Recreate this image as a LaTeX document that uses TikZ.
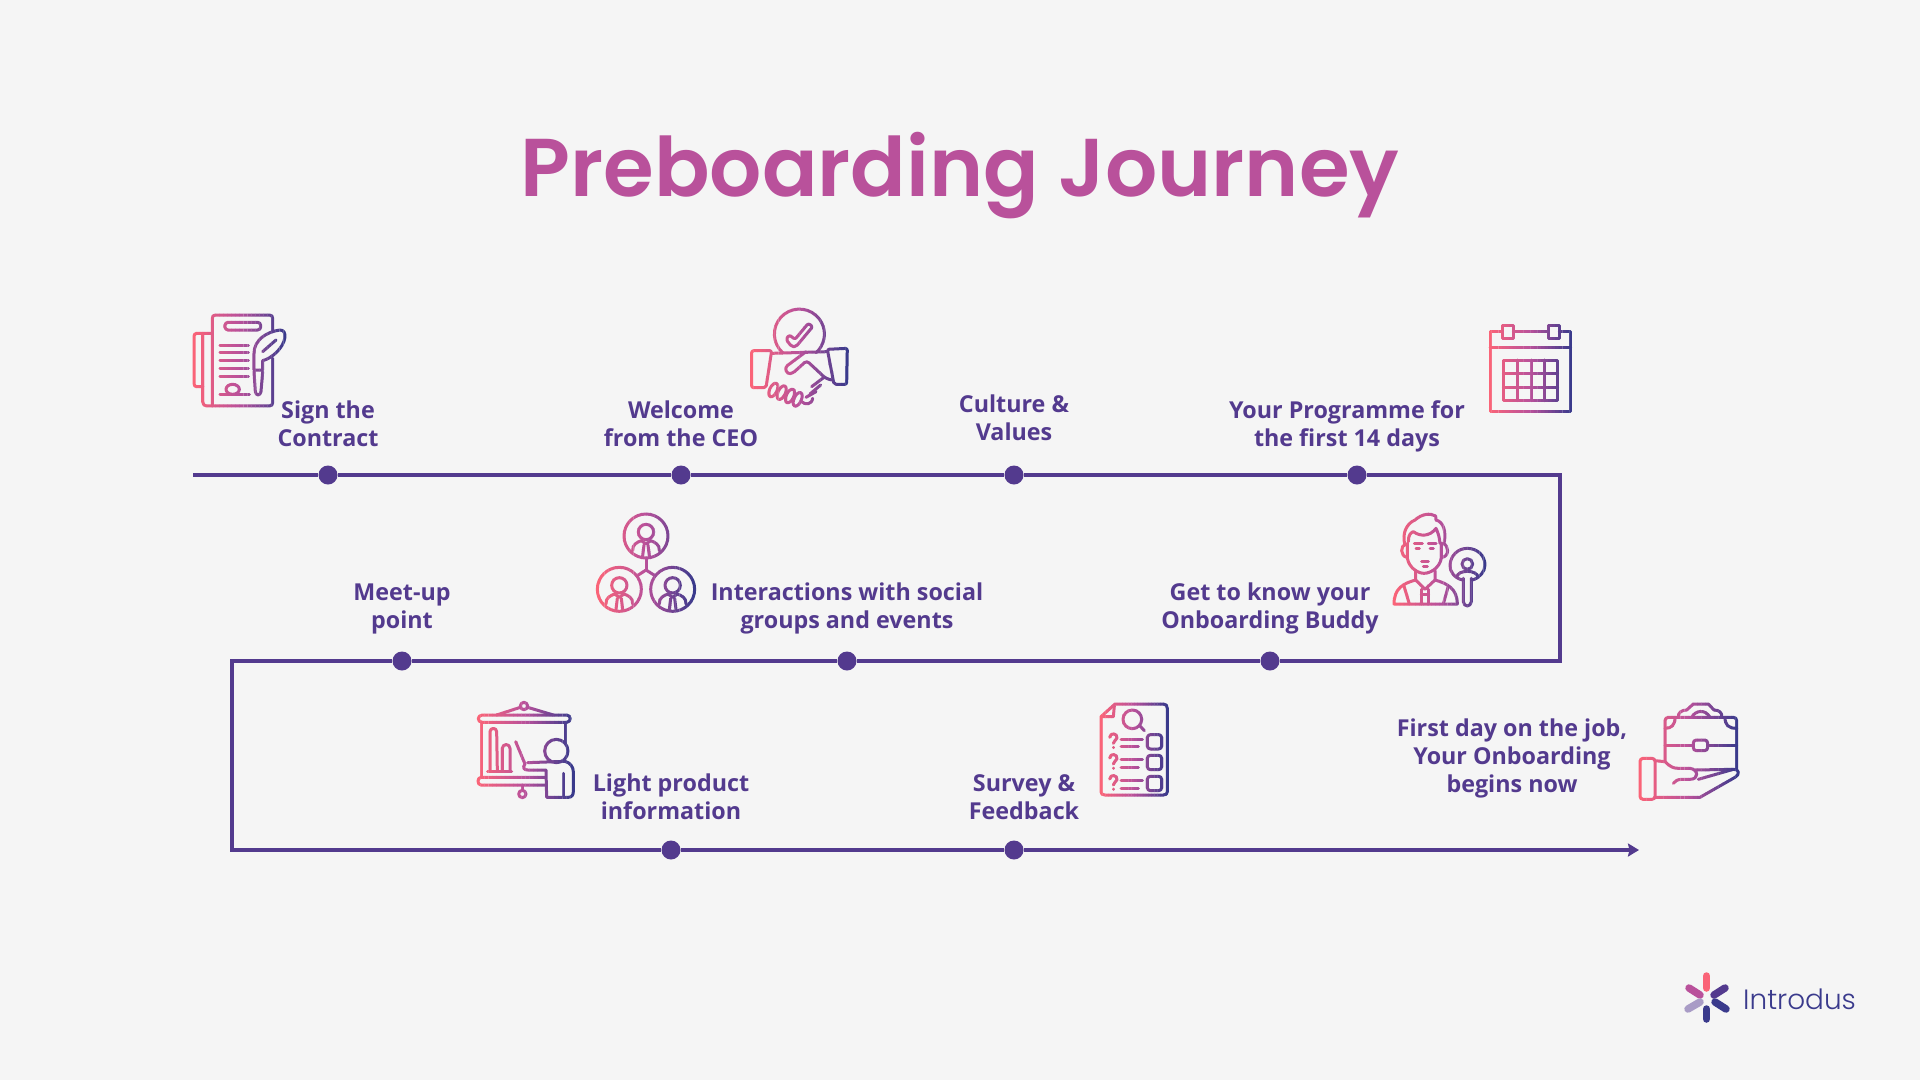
\documentclass[tikz,border=0pt]{standalone}
\usepackage{fontspec}
\setmainfont{Open Sans}
\newfontfamily\titlefont{Poppins SemiBold}
\newfontfamily\logofont{Poppins Light}
\usetikzlibrary{positioning, arrows.meta, shapes}
\definecolor{pagebg}{HTML}{F5F5F5}
\definecolor{journey}{HTML}{533A8E}
\definecolor{titlepink}{HTML}{B9519B}
\definecolor{iconpink}{HTML}{FA6478}
\definecolor{iconmid}{HTML}{B9519B}
\definecolor{iconnavy}{HTML}{3A3A8C}
\newcommand{\gradicon}[5]{%
  \begin{scope}[shift={(#1,#2)},x=0.3333pt,y=-0.3333pt]
    \foreach \i in {0,...,23}{
      \pgfmathsetmacro\xa{#3-4+(#4-#3+8)*\i/24-0.3}
      \pgfmathsetmacro\xb{#3-4+(#4-#3+8)*(\i+1)/24+0.3}
      \pgfmathsetmacro\gradpct{min(100,\i*200/23)}
      \pgfmathsetmacro\gradnav{max(0,\i*200/23-100)}
      \colorlet{gradcol}{iconnavy!\gradnav!iconmid}
      \colorlet{gradlow}{iconmid!\gradpct!iconpink}
      \pgfmathparse{\i<12 ? 1 : 0}
      \ifnum\pgfmathresult=1 \colorlet{gradcol}{gradlow}\fi
      \begin{scope}
        \clip (\xa,-300) rectangle (\xb,900);
        \begin{scope}[color=gradcol, line width=3pt, line join=round, line cap=round]
          #5
        \end{scope}
      \end{scope}
    }
  \end{scope}}
\begin{document}
\begin{tikzpicture}
  [x=1pt, y=-1pt,
   dot/.style={circle, fill=journey, inner sep=0pt, minimum size=19pt},
   steplabel/.style={align=center, text=journey, font=\fontsize{23.3}{28}\selectfont\bfseries},
   journeyline/.style={draw=journey, line width=3.1pt, line join=miter},
   >={Stealth[length=11pt, width=13pt, inset=1.5pt]}]
  \fill[pagebg] (0,0) rectangle (1920,1080);
  \useasboundingbox (0,0) rectangle (1920,1080);

  \node[text=titlepink, font=\titlefont\fontsize{82}{100}\selectfont] (heading) at (960,176) {Preboarding Journey};

  \coordinate (start) at (193,475);
  \node[dot] (sign) at (328,475) {};
  \node[dot] (ceo) at (681,475) {};
  \node[dot] (culture) at (1014,475) {};
  \node[dot] (programme) at (1357,475) {};
  \coordinate (cornerA) at (1560,475);
  \coordinate (cornerB) at (1560,661);
  \node[dot] (buddy) at (1270,661) {};
  \node[dot] (groups) at (847,661) {};
  \node[dot] (meetup) at (402,661) {};
  \coordinate (cornerC) at (232,661);
  \coordinate (cornerD) at (232,850);
  \node[dot] (product) at (671,850) {};
  \node[dot] (survey) at (1014,850) {};
  \coordinate (finish) at (1639,850);

  \draw[journeyline] (start) -- (sign);
  \draw[journeyline] (sign) -- (ceo);
  \draw[journeyline] (ceo) -- (culture);
  \draw[journeyline] (culture) -- (programme);
  \draw[journeyline] (programme) -- (cornerA) -- (cornerB) -- (buddy);
  \draw[journeyline] (buddy) -- (groups);
  \draw[journeyline] (groups) -- (meetup);
  \draw[journeyline] (meetup) -- (cornerC) -- (cornerD) -- (product);
  \draw[journeyline] (product) -- (survey);
  \draw[journeyline, ->] (survey) -- (finish);

  \node[steplabel] (signtext) at (328,424) {Sign the\\Contract};
  \node[steplabel] (ceotext) at (681,424) {Welcome\\from the CEO};
  \node[steplabel] (culturetext) at (1014,417.5) {Culture \&\\Values};
  \node[steplabel] (programmetext) at (1347,426.5) {Your Programme for\\the first 14 days};
  \node[steplabel] (meetuptext) at (402,609) {Meet-up\\point};
  \node[steplabel] (groupstext) at (847,608) {Interactions with social\\groups and events};
  \node[steplabel] (buddytext) at (1270,608) {Get to know your\\Onboarding Buddy};
  \node[steplabel] (producttext) at (671,796.5) {Light product\\information};
  \node[steplabel] (surveytext) at (1024,797) {Survey \&\\Feedback};
  \node[steplabel] (firstdaytext) at (1512,758) {First day on the job,\\Your Onboarding\\begins now};

  \gradicon{180}{290}{40}{318}{
    \draw (97,130) -- (50,130) .. controls (44,130) and (42,134) .. (42,140) -- (42,280) .. controls (42,287) and (45,290) .. (50,290) -- (68,290);
    \draw (68,130) -- (68,335) .. controls (68,343) and (73,348) .. (80,348) -- (268,348) .. controls (275,348) and (278,344) .. (278,338) -- (278,205);
    \draw (97,348) -- (97,85) .. controls (97,78) and (100,75) .. (107,75) -- (268,75) .. controls (275,75) and (278,78) .. (278,85) -- (278,122);
    \draw[rounded corners=3pt] (135,97) rectangle (242,120);
    \foreach \liney in {165,188,211,234,258} {\draw (120,\liney) -- (205,\liney);}
    \draw (120,313) -- (208,313);
    \draw (158,298) ellipse [x radius=20, y radius=15];
    \draw (222,240) -- (222,190) .. controls (222,150) and (260,125) .. (300,120) .. controls (312,120) and (316,130) .. (315,142) .. controls (310,175) and (275,205) .. (248,212) -- (248,240) -- cycle;
    \draw (222,245) -- (226,305) .. controls (228,318) and (240,318) .. (243,305) -- (248,245);
    \draw (248,185) -- (288,150);
  }

  \gradicon{730}{290}{62}{355}{
    \draw (158,188) arc [start angle=132, end angle=408, radius=75];
    \draw[rounded corners=2pt] (168,148) -- (178,135) -- (195,148) -- (235,100) -- (248,110) -- (198,170) -- (185,170) -- cycle;
    \draw[rounded corners=2pt] (65,182) -- (125,182) -- (108,293) -- (65,293) -- cycle;
    \draw[rounded corners=2pt] (292,178) -- (352,175) -- (350,283) -- (312,283) -- cycle;
    \draw (125,190) -- (292,185);
    \draw[rounded corners=3pt] (228,185) -- (165,232) -- (172,252) -- (188,250) -- (230,212) -- (287,265) -- (305,270);
    \foreach \fx/\fy in {130/300,155/308,180/318,203/328} {\draw[rotate around={-25:(\fx,\fy)}] (\fx,\fy) ellipse [x radius=11, y radius=22];}
    \draw (282,262) -- (245,290);
    \draw (272,285) -- (240,312);
    \draw (258,305) -- (228,322);
    \draw (248,325) .. controls (245,345) and (225,345) .. (215,335);
  }

  \gradicon{1470}{310}{58}{305}{
    \draw (97,65) -- (60,65) -- (60,305) -- (302,305) -- (302,65) -- (268,65);
    \draw (130,65) -- (235,65);
    \draw (97,47) rectangle (130,85);
    \draw (235,47) rectangle (268,85);
    \draw (60,113) -- (302,113);
    \draw (100,150) rectangle (263,272);
    \foreach \gridx in {143,183,222} {\draw (\gridx,150) -- (\gridx,272);}
    \draw (100,190) -- (263,190);
    \draw (100,232) -- (263,232);
  }

  \gradicon{580}{500}{52}{345}{
    \foreach \cx/\cy in {198/108,118/268,278/268} {
      \draw (\cx,\cy) circle [radius=66];
      \draw (\cx,\cy-12) circle [radius=23];
      \draw (\cx-40,\cy+44) .. controls (\cx-42,\cy+25) and (\cx-25,\cy+18) .. (\cx-14,\cy+14) -- (\cx,\cy+24) -- (\cx+14,\cy+14) .. controls (\cx+25,\cy+18) and (\cx+42,\cy+25) .. (\cx+40,\cy+44);
      \draw (\cx-6,\cy+27) -- (\cx-10,\cy+60);
      \draw (\cx+6,\cy+27) -- (\cx+10,\cy+60);
    }
    \draw (198,175) -- (198,210);
    \draw (198,210) -- (175,225);
    \draw (198,210) -- (222,225);
  }

  \gradicon{1380}{500}{40}{318}{
    \draw (75,135) .. controls (65,100) and (80,70) .. (105,60) .. controls (125,42) and (150,38) .. (167,48) -- (168,60) .. controls (190,65) and (200,95) .. (192,130);
    \draw (85,125) .. controls (85,105) and (92,98) .. (100,95) .. controls (120,110) and (150,110) .. (168,85) .. controls (175,100) and (178,110) .. (180,130);
    \draw (78,132) .. controls (60,135) and (60,170) .. (82,172);
    \draw (188,130) .. controls (208,135) and (208,170) .. (186,172);
    \draw (82,130) -- (82,175) .. controls (88,205) and (115,220) .. (132,220) .. controls (150,220) and (178,205) .. (184,175) -- (184,130);
    \draw (103,130) -- (127,130);
    \draw (145,130) -- (168,130);
    \draw (108,145) -- (118,145);
    \draw (150,145) -- (160,145);
    \draw (125,185) -- (145,185);
    \draw (130,200) -- (142,200);
    \draw (107,212) -- (107,240) -- (135,268) -- (165,240) -- (165,212);
    \draw (107,240) .. controls (70,250) and (42,265) .. (42,312) -- (232,312) .. controls (232,265) and (200,250) .. (165,240);
    \draw (72,258) -- (88,312);
    \draw (205,258) -- (190,312);
    \draw (124,268) -- (124,312);
    \draw (146,268) -- (146,312);
    \draw (124,282) -- (146,282);
    \draw (248,240) .. controls (225,235) and (208,215) .. (210,195) .. controls (212,165) and (235,145) .. (262,145) .. controls (290,145) and (315,165) .. (315,195) .. controls (315,215) and (298,235) .. (276,240);
    \draw (262,192) circle [radius=16];
    \draw (230,232) .. controls (232,220) and (245,214) .. (262,214) .. controls (278,214) and (292,220) .. (295,232);
    \draw (250,235) -- (250,305) .. controls (252,322) and (272,322) .. (274,305) -- (274,235);
  }

  \gradicon{465}{690}{38}{325}{
    \draw (177,48) circle [radius=11];
    \draw (166,52) -- (95,75);
    \draw (188,52) -- (265,75);
    \draw (52,75) -- (305,75) .. controls (319,75) and (319,97) .. (305,97) -- (52,97) .. controls (36,97) and (36,75) .. (52,75);
    \draw (48,97) -- (48,262);
    \draw (303,97) -- (303,160);
    \draw (240,262) -- (48,262) .. controls (36,262) and (36,285) .. (48,285) -- (240,285);
    \draw (172,285) -- (172,300);
    \draw (172,312) circle [radius=11];
    \draw (75,243) -- (75,125) .. controls (75,112) and (95,112) .. (95,125) -- (97,243);
    \draw (112,243) -- (112,175) .. controls (112,160) and (135,160) .. (135,175) -- (135,243);
    \draw (68,243) -- (140,243);
    \draw (152,155) -- (180,222);
    \draw (274,183) circle [radius=35];
    \draw (180,222) .. controls (172,232) and (176,240) .. (188,240) -- (243,240) -- (245,322) -- (310,322) .. controls (320,322) and (325,315) .. (325,305) -- (325,245) .. controls (325,230) and (315,218) .. (300,214);
    \draw (188,218) -- (300,214);
    \draw (297,250) -- (297,320);
  }

  \gradicon{1085}{690}{48}{248}{
    \draw (90,42) -- (235,42) .. controls (243,42) and (247,47) .. (247,55) -- (247,305) .. controls (247,312) and (243,315) .. (235,315) -- (60,315) .. controls (52,315) and (48,312) .. (48,305) -- (48,80) -- cycle;
    \draw (52,80) -- (85,80) -- (88,48);
    \draw (142,88) circle [radius=28];
    \draw (165,108) -- (178,122);
    \foreach \rowy in {150,212,275} {
      \draw (74,\rowy-8) .. controls (76,\rowy-24) and (98,\rowy-20) .. (96,\rowy-6) .. controls (94,\rowy+2) and (85,\rowy+2) .. (85,\rowy+10);
      \draw (85,\rowy+22) -- (85,\rowy+23);
      \draw (108,\rowy-3) -- (172,\rowy-3);
      \draw (108,\rowy+20) -- (160,\rowy+20);
      \draw[rounded corners=3pt] (187,\rowy-16) rectangle (230,\rowy+27);
    }
  }

  \gradicon{1620}{690}{58}{355}{
    \draw (135,215) -- (135,92) .. controls (135,86) and (139,82) .. (145,82) -- (340,82) .. controls (346,82) and (350,86) .. (350,92) -- (350,235);
    \draw (135,115) .. controls (155,115) and (165,105) .. (165,82);
    \draw (315,82) .. controls (315,105) and (325,115) .. (350,115);
    \draw (175,82) .. controls (173,68) and (185,60) .. (200,60) -- (220,42) -- (265,42) -- (282,60) .. controls (298,60) and (307,68) .. (305,82);
    \draw (215,82) .. controls (225,62) and (255,55) .. (270,82);
    \draw (135,165) -- (218,165);
    \draw (265,165) -- (350,165);
    \draw[rounded corners=3pt] (220,150) rectangle (263,182);
    \draw[rounded corners=3pt] (60,205) rectangle (105,328);
    \draw (105,212) -- (135,215) .. controls (150,230) and (160,235) .. (175,235) -- (210,235) .. controls (235,238) and (238,268) .. (210,268) -- (185,268) .. controls (170,268) and (165,275) .. (160,280);
    \draw (225,240) -- (340,238) .. controls (358,235) and (360,255) .. (345,262) -- (240,322) -- (105,322);
    \draw (235,268) -- (340,238);
  }

  \draw[line width=7.5pt, line cap=round, draw=iconpink] (1706.5,976) -- (1706.5,988);
  \draw[line width=7.5pt, line cap=round, draw=iconmid] (1689,988) -- (1700,995);
  \draw[line width=7.5pt, line cap=round, draw=journey] (1725,988) -- (1714,995);
  \draw[line width=7.5pt, line cap=round, draw=journey!50!white] (1688,1009) -- (1700,1002);
  \draw[line width=7.5pt, line cap=round, draw=iconnavy] (1715,1002) -- (1726,1009);
  \draw[line width=7.5pt, line cap=round, draw=iconnavy] (1706.5,1009) -- (1706.5,1019);
  \node[anchor=base west, inner sep=0pt, text=iconnavy, font=\logofont\fontsize{27.9}{34}\selectfont] (brand) at (1743,1009) {Introdus};
\end{tikzpicture}
\end{document}
